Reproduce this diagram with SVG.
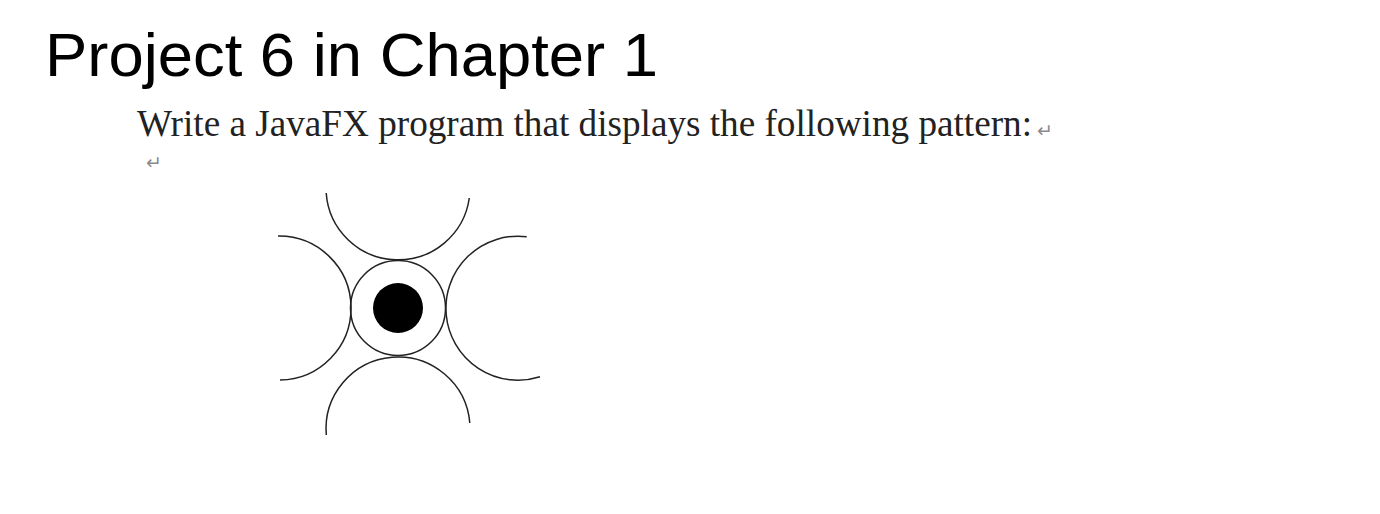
<svg xmlns="http://www.w3.org/2000/svg" width="1380" height="514" viewBox="0 0 1380 514">
<style>
.title{font-family:"Liberation Sans",Arial,sans-serif;font-size:61px;fill:#000}
.body{font-family:"Liberation Serif","Times New Roman",serif;font-size:37.5px;fill:#222}
.mark{font-family:"DejaVu Sans",sans-serif;font-size:19px;fill:#8a8a8a}
.arc{fill:none;stroke:#222;stroke-width:1.5}
</style>
<rect width="1380" height="514" fill="#fff"/>
<text class="title" x="45" y="76" textLength="613" lengthAdjust="spacingAndGlyphs">Project 6 in Chapter 1</text>
<text class="body" x="137" y="136" textLength="895" lengthAdjust="spacingAndGlyphs">Write a JavaFX program that displays the following pattern:</text>
<text class="mark" x="1037" y="137">↵</text>
<text class="mark" x="146" y="169">↵</text>
<g id="pattern">
<g id="top-arc"><path class="arc" d="M326.2 193 A72 72 0 0 0 469.3 198"/></g>
<g id="bottom-arc"><path class="arc" d="M326.3 435 A72 72 0 1 1 469.8 423"/></g>
<g id="left-arc"><path class="arc" d="M278 236 A72 72 0 0 1 280 380"/></g>
<g id="right-arc"><path class="arc" d="M526.7 236.7 A72 72 0 1 0 540 376.7"/></g>
<g id="middle-circle"><circle class="arc" cx="398" cy="308" r="47.5"/></g>
<g id="center-dot"><circle cx="398" cy="308" r="25" fill="#000"/></g>
</g>
</svg>
